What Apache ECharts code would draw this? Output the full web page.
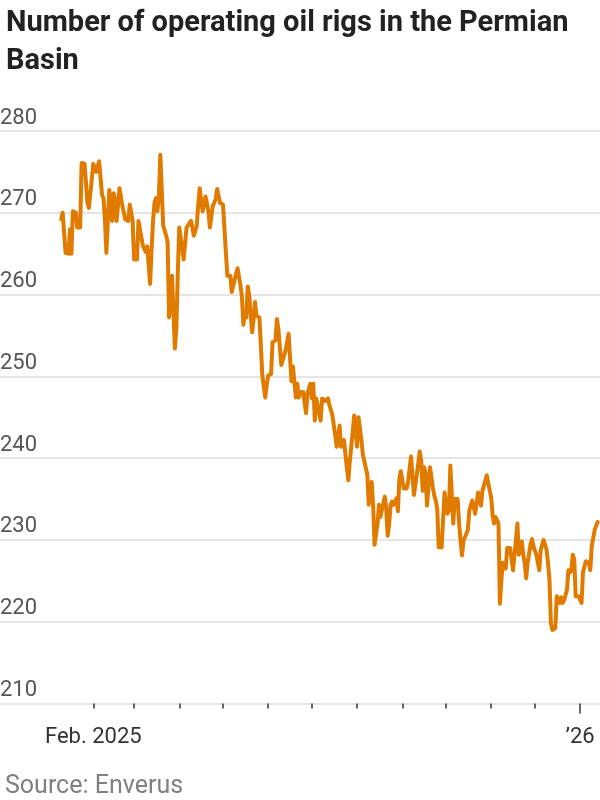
<!DOCTYPE html>
<html>
<head>
<meta charset="utf-8">
<script src="https://cdn.jsdelivr.net/npm/echarts@6/dist/echarts.min.js"></script>
<style>
  html, body { margin: 0; padding: 0; background: #fff; }
  #chart { width: 600px; height: 800px; }
</style>
</head>
<body>
<div id="chart"></div>
<script>
// ---- Data ----
const titleText = 'Number of operating oil rigs in the Permian\nBasin';
const sourceText = 'Source: Enverus';

const dates = [
 '2025-01-10','2025-01-11','2025-01-13','2025-01-15','2025-01-16','2025-01-17','2025-01-18','2025-01-20','2025-01-21','2025-01-23',
 '2025-01-24','2025-01-26','2025-01-28','2025-01-29','2025-01-30','2025-02-01','2025-02-03','2025-02-05','2025-02-07','2025-02-08',
 '2025-02-09','2025-02-10','2025-02-12','2025-02-14','2025-02-15','2025-02-16','2025-02-17','2025-02-19','2025-02-20','2025-02-21',
 '2025-02-23','2025-02-25','2025-02-26','2025-02-28','2025-03-01','2025-03-03','2025-03-04','2025-03-05','2025-03-07','2025-03-09',
 '2025-03-10','2025-03-12','2025-03-13','2025-03-14','2025-03-15','2025-03-16','2025-03-17','2025-03-18','2025-03-19','2025-03-20',
 '2025-03-21','2025-03-23','2025-03-24','2025-03-25','2025-03-26','2025-03-27','2025-03-28','2025-03-29','2025-03-30','2025-03-31',
 '2025-04-01','2025-04-02','2025-04-04','2025-04-05','2025-04-06','2025-04-07','2025-04-09','2025-04-10','2025-04-11','2025-04-13',
 '2025-04-14','2025-04-15','2025-04-17','2025-04-18','2025-04-19','2025-04-21','2025-04-22','2025-04-24','2025-04-26','2025-04-27',
 '2025-04-28','2025-04-29','2025-05-01','2025-05-03','2025-05-04','2025-05-06','2025-05-07','2025-05-08','2025-05-10','2025-05-11',
 '2025-05-12','2025-05-13','2025-05-14','2025-05-15','2025-05-16','2025-05-17','2025-05-18','2025-05-19','2025-05-21','2025-05-22',
 '2025-05-23','2025-05-24','2025-05-26','2025-05-28','2025-05-30','2025-05-31','2025-06-01','2025-06-03','2025-06-04','2025-06-06',
 '2025-06-07','2025-06-08','2025-06-10','2025-06-11','2025-06-13','2025-06-15','2025-06-16','2025-06-17','2025-06-18','2025-06-19',
 '2025-06-20','2025-06-21','2025-06-22','2025-06-23','2025-06-25','2025-06-27','2025-06-28','2025-06-30','2025-07-01','2025-07-02',
 '2025-07-03','2025-07-04','2025-07-05','2025-07-07','2025-07-08','2025-07-10','2025-07-12','2025-07-13','2025-07-15','2025-07-17',
 '2025-07-18','2025-07-19','2025-07-20','2025-07-21','2025-07-23','2025-07-24','2025-07-25','2025-07-26','2025-07-27','2025-07-28',
 '2025-07-29','2025-07-30','2025-07-31','2025-08-01','2025-08-02','2025-08-04','2025-08-05','2025-08-06','2025-08-08','2025-08-09',
 '2025-08-10','2025-08-11','2025-08-12','2025-08-13','2025-08-15','2025-08-16','2025-08-17','2025-08-18','2025-08-20','2025-08-21',
 '2025-08-22','2025-08-23','2025-08-24','2025-08-25','2025-08-26','2025-08-28','2025-08-29','2025-08-30','2025-08-31','2025-09-01',
 '2025-09-02','2025-09-04','2025-09-05','2025-09-07','2025-09-08','2025-09-09','2025-09-11','2025-09-13','2025-09-14','2025-09-15',
 '2025-09-16','2025-09-17','2025-09-18','2025-09-20','2025-09-21','2025-09-22','2025-09-23','2025-09-24','2025-09-25','2025-09-26',
 '2025-09-28','2025-09-29','2025-09-30','2025-10-01','2025-10-02','2025-10-03','2025-10-04','2025-10-05','2025-10-06','2025-10-07',
 '2025-10-09','2025-10-10','2025-10-11','2025-10-12','2025-10-13','2025-10-14','2025-10-16','2025-10-17','2025-10-19','2025-10-21',
 '2025-10-22','2025-10-23','2025-10-24','2025-10-25','2025-10-26','2025-10-27','2025-10-29','2025-10-30','2025-10-31','2025-11-01',
 '2025-11-02','2025-11-03','2025-11-04','2025-11-06','2025-11-07','2025-11-08','2025-11-09','2025-11-11','2025-11-12','2025-11-14',
 '2025-11-15','2025-11-16','2025-11-17','2025-11-18','2025-11-19','2025-11-20','2025-11-22','2025-11-23','2025-11-24','2025-11-25',
 '2025-11-26','2025-11-28','2025-11-29','2025-11-30','2025-12-02','2025-12-03','2025-12-04','2025-12-05','2025-12-07','2025-12-08',
 '2025-12-09','2025-12-10','2025-12-11','2025-12-12','2025-12-13','2025-12-15','2025-12-16','2025-12-17','2025-12-18','2025-12-19',
 '2025-12-20','2025-12-21','2025-12-23','2025-12-24','2025-12-25','2025-12-26','2025-12-27','2025-12-28','2025-12-29','2025-12-31',
 '2026-01-01','2026-01-02','2026-01-03','2026-01-04','2026-01-05','2026-01-07','2026-01-08','2026-01-09','2026-01-11','2026-01-13'
];

const rigs = [
 269.2,270,265.1,265,268,265,270.2,270,268.2,268.2,
 276.1,276,271.2,270.6,270.4,276,275,276.3,272.2,271.8,
 269.2,265.1,272.8,269,272.4,271.5,269,273,273,270.8,
 269.2,269,271,269,264.3,264.3,269,268.8,266,265.2,
 265.9,261.3,265.5,269,271.2,271.8,270.2,272,277.1,277.1,
 268.4,267.2,266.4,257.2,257.2,262.3,262.3,253.4,255.8,262.7,
 268.2,268.2,264.3,264.3,268.2,268.3,269,268.2,267.2,268.4,
 271,273,270.2,270.2,272,270.2,268.2,270.8,271.7,272.9,
 272.9,271.2,271,265.1,262.3,262.3,260.3,260.4,262.6,263.2,
 263,261.1,259.7,256.3,257.8,257.2,261,259.9,255.4,257,
 259.1,257.4,257.2,250.1,247.4,248.9,250.1,250.3,254.2,254.4,
 257,255.8,251.4,251.4,253.2,255.2,255.2,249.4,251.2,251.2,
 247.4,249.1,247.4,248.1,248.1,245.5,248,249.1,247.3,249.1,
 244.6,247.3,247.3,244.6,247.3,247,247.3,246.5,245.3,242.8,
 241.4,241.4,244,241.4,242.2,242.2,238.8,237.3,239.6,241.4,
 243.2,245.2,245.2,241.4,245,242.2,240.4,240.3,238,234.3,
 234.3,237.1,234.3,229.4,231.9,234.3,232.8,232.8,235.3,233.9,
 230.5,231.9,234.3,234.7,234.3,235.1,233.5,237.5,238.4,238.4,
 236.3,236.3,237.1,240.2,240.2,235.5,238,240.8,239.7,236,
 238.9,238.1,234.2,238.9,238.9,236.4,235.4,234.8,233.8,229.1,
 229.1,232.4,235.8,235.8,233.2,233.6,239.1,239.1,232,235,
 235,232,229.9,228.1,229.9,230.1,231.2,233.6,234.8,233.2,
 233,235.8,235.8,234.2,236,236.2,237.9,236.9,236.9,235.2,
 233,232,232.8,232,222.2,225.1,227.2,226.5,229,229,
 228.8,226.3,226.3,230,232,228.2,229.8,228.2,227.2,225.3,
 227.2,229.4,230.1,229.2,228.2,228.2,226.3,228.8,230,230,
 228.8,227.2,225.1,219.8,219,219.2,223.1,223.1,222.3,223,
 222.3,222.6,223.9,226.3,226,226.3,228.2,227.6,223.1,223.1,
 223.3,222.3,226.1,226.1,227.4,227.2,226.3,229.2,231.2,232.2
];

// Axis settings
const yMin = 210, yMax = 280, yStep = 10;
const xStart = '2024-11-29';
const xEnd = '2026-01-14';
const tickDates = ['2025-02-01','2025-03-01','2025-04-01','2025-05-01','2025-06-01','2025-07-01',
                   '2025-08-01','2025-09-01','2025-10-01','2025-11-01','2025-12-01','2026-01-01'];
const labelDates = ['2025-02-01','2026-01-01'];
const labelTexts = ['Feb. 2025','\u201926'];
const yearTickDates = ['2026-01-01'];

function ts(s) {
  const p = s.split('-').map(Number);
  return Date.UTC(p[0], p[1] - 1, p[2]);
}
const labelMap = {};
labelDates.forEach((d, i) => { labelMap[ts(d)] = labelTexts[i]; });

const seriesData = dates.map((d, i) => [ts(d), rigs[i]]);
const xMinTs = ts(xStart);
const xMaxTs = ts(xEnd) + 16 * 3600 * 1000;

const FONT = "'Roboto', sans-serif";

const chart = echarts.init(document.getElementById('chart'), null, { renderer: 'canvas' });
chart.setOption({
  animation: false,
  backgroundColor: '#fff',
  title: [
    {
      text: titleText,
      left: 1, top: 0,
      textStyle: { fontFamily: FONT, fontSize: 29, fontWeight: 'bold', color: '#222', lineHeight: 38 }
    },
    {
      text: sourceText,
      left: 0, top: 769,
      textStyle: { fontFamily: FONT, fontSize: 25, fontWeight: 'normal', color: '#808080' }
    }
  ],
  grid: { left: 0, right: 0, top: 131, bottom: 96.5, containLabel: false, outerBoundsMode: 'none' },
  xAxis: [
    {
      type: 'value',
      min: xMinTs,
      max: xMaxTs,
      axisLine: { show: false },
      splitLine: { show: false },
      axisTick: { show: true, customValues: tickDates.map(ts), length: 5, lineStyle: { color: '#333', width: 1.5 } },
      axisLabel: {
        show: true, customValues: labelDates.map(ts), margin: 23,
        fontFamily: FONT, fontSize: 22, color: '#333',
        formatter: function (v) { return labelMap[v] || ''; }
      }
    },
    {
      type: 'value',
      position: 'bottom',
      min: xMinTs,
      max: xMaxTs,
      axisLine: { show: false },
      splitLine: { show: false },
      axisLabel: { show: false },
      axisTick: { show: true, customValues: yearTickDates.map(ts), length: 10, lineStyle: { color: '#333', width: 1.5 } }
    }
  ],
  yAxis: {
    type: 'value',
    min: yMin, max: yMax, interval: yStep,
    axisLine: { show: false },
    axisTick: { show: false },
    splitLine: { show: true, lineStyle: { color: '#dcdcdc', width: 1.5 } },
    axisLabel: {
      inside: true, margin: 0, verticalAlign: 'bottom', padding: [0, 0, 2, 0],
      fontFamily: FONT, fontSize: 22, color: '#555'
    }
  },
  series: [{
    type: 'line',
    xAxisIndex: 0,
    data: seriesData,
    showSymbol: false,
    symbol: 'none',
    lineStyle: { color: '#e07b00', width: 4, join: 'round', cap: 'round' },
    z: 5
  }]
});
</script>
</body>
</html>
